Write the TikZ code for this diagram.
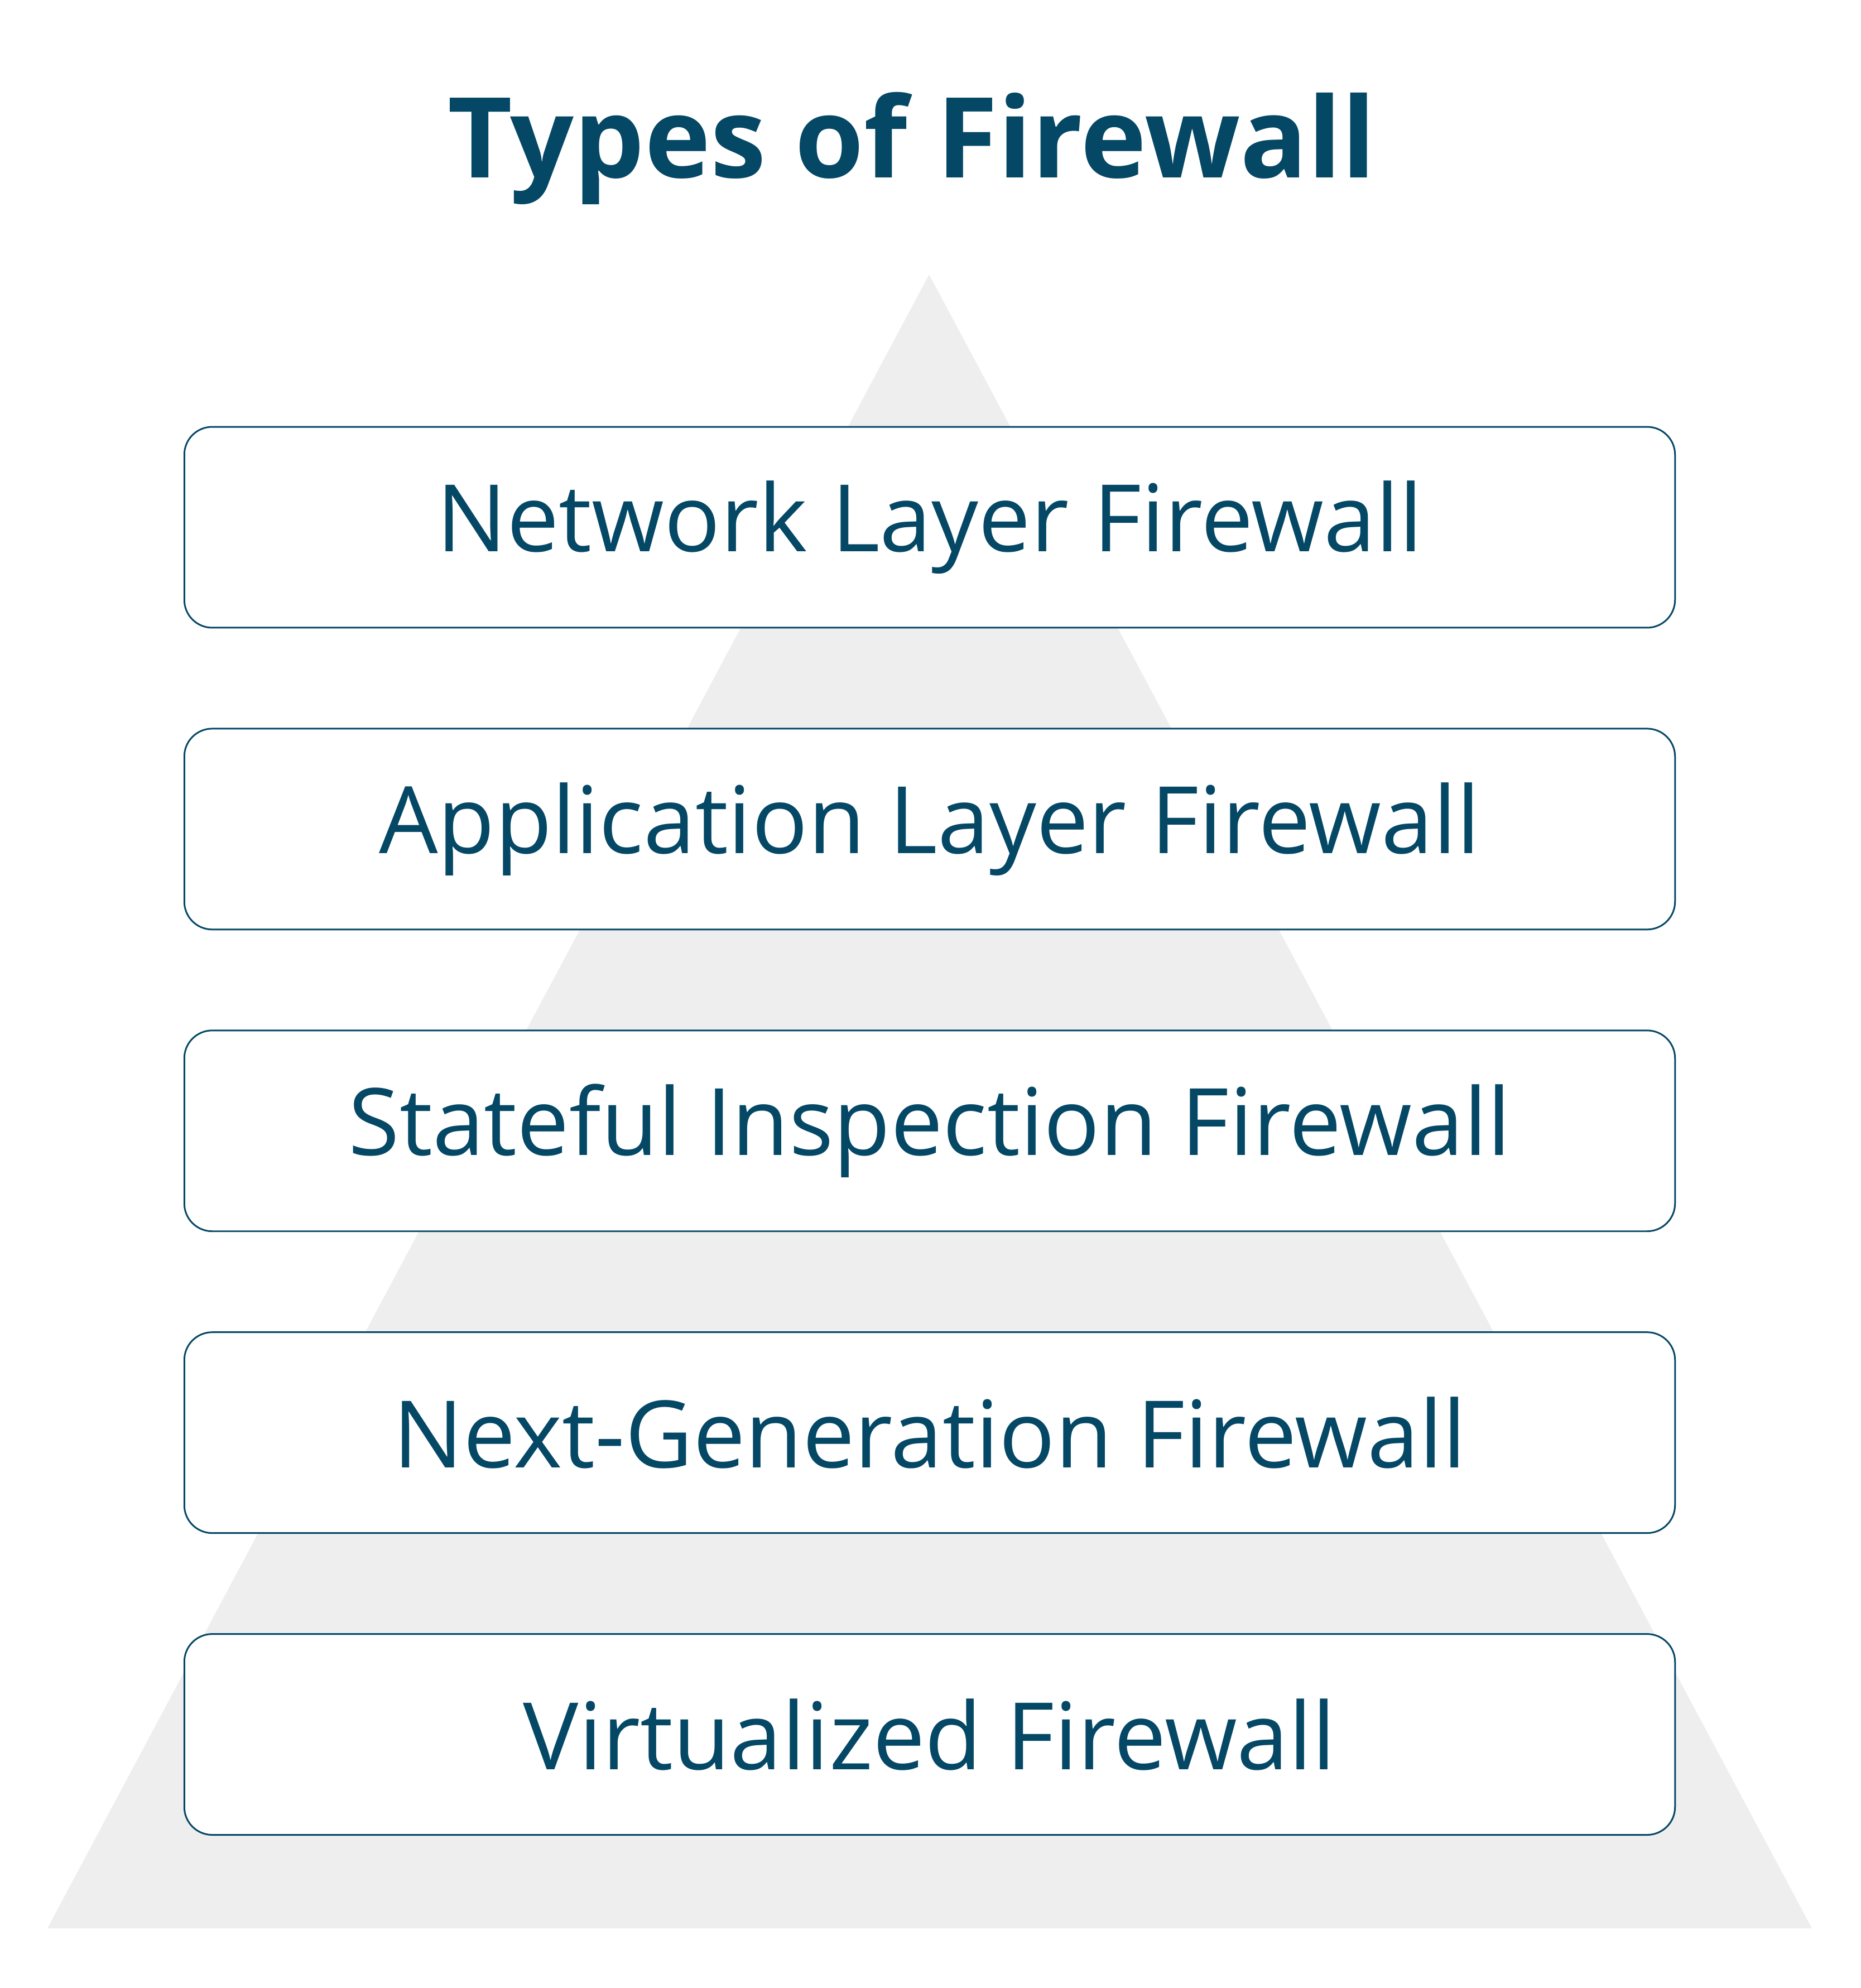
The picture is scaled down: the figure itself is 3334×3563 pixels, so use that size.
\documentclass[tikz,border=0pt]{standalone}
\usepackage{fontspec}
\setmainfont{Open Sans}
\usepackage{tikz}
\usetikzlibrary{positioning}

\definecolor{fwblue}{HTML}{054866}
\definecolor{fwgray}{HTML}{EEEEEE}

\tikzset{
    layer/.style={draw=fwblue, line width=1.7pt, fill=white, rounded corners=1cm,
        minimum width=53.44cm, minimum height=7.2cm, inner sep=0pt,
        text=fwblue, font=\fontsize{95}{114}\selectfont},
    heading/.style={text=fwblue, font=\fontsize{114}{137}\selectfont\bfseries}
}

\begin{document}
\begin{tikzpicture}[x=0.02cm, y=-0.02cm, node distance=3.56cm]
    \useasboundingbox (0,0) rectangle (3334,3563);

    \node[heading, anchor=base] (title) at (1634,318) {Types of Firewall};

    % pyramid behind the boxes
    \coordinate (apex) at (1665,492);
    \coordinate (baseL) at (85,3456);
    \coordinate (baseR) at (3247,3456);
    \fill[fwgray] (apex) -- (baseR) -- (baseL) -- cycle;

    \node[layer] (net) at (1666,945) {Network Layer Firewall};
    \node[layer, below=of net] (app) {Application Layer Firewall};
    \node[layer, below=of app] (state) {Stateful Inspection Firewall};
    \node[layer, below=of state] (ngfw) {Next-Generation Firewall};
    \node[layer, below=of ngfw] (virt) {Virtualized Firewall};
\end{tikzpicture}
\end{document}
